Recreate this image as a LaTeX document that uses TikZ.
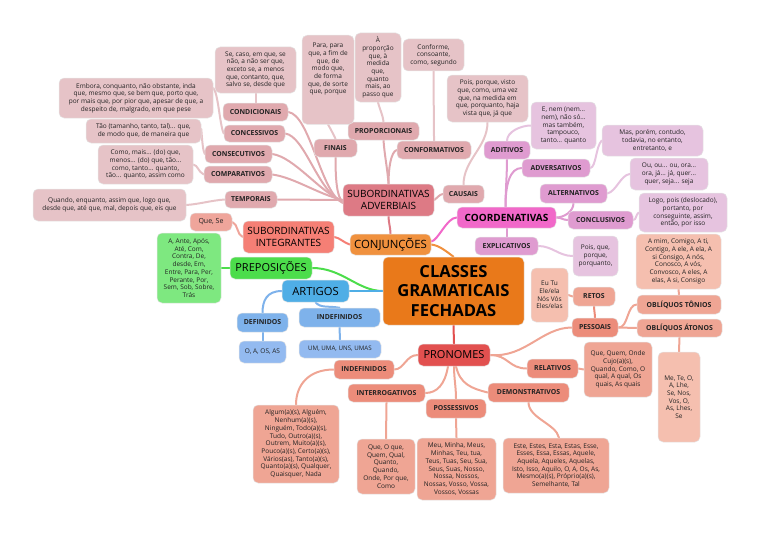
\documentclass[tikz,border=0pt]{standalone}
\usepackage{fontspec}
\setmainfont{Open Sans}
\usetikzlibrary{backgrounds}
\definecolor{cCen}{HTML}{E9791A}
\definecolor{cPro}{HTML}{E2504F}
\definecolor{cCon}{HTML}{F0913E}
\definecolor{cInt}{HTML}{F57F75}
\definecolor{cQue}{HTML}{EFA59B}
\definecolor{cPre}{HTML}{4CDD4B}
\definecolor{cPrl}{HTML}{7EE880}
\definecolor{cArt}{HTML}{4FAEE6}
\definecolor{cDef}{HTML}{7EB2EB}
\definecolor{cDel}{HTML}{93BAF0}
\definecolor{cAdv}{HTML}{DD7A85}
\definecolor{cAdl}{HTML}{E0A9AE}
\definecolor{cAdf}{HTML}{E6C3C7}
\definecolor{cCoo}{HTML}{F168C9}
\definecolor{cCol}{HTML}{DF9BD0}
\definecolor{cCof}{HTML}{E6C3DF}
\definecolor{cPrn}{HTML}{EC8C7A}
\definecolor{cPrf}{HTML}{EFA594}
\definecolor{cPrs}{HTML}{F5BFAF}
\definecolor{cInk}{HTML}{222222}
\tikzset{
  x=1pt,y=-1pt,
  box/.style={rounded corners=5pt,draw=black!10,line width=.5pt,inner sep=0pt,align=center,text=cInk},
  leaf/.style={box,font=\fontsize{6.5}{7.7}\selectfont},
  lab/.style={box,font=\fontsize{6.9}{8}\selectfont\bfseries},
  big/.style={box,text=black,font=\fontsize{10}{12.5}\selectfont},
  conn/.style={line width=2pt,line cap=round}
}
\newcommand{\bx}[7]{\node[#6,minimum width={(#4-#2)*1pt},minimum height={(#5-#3)*1pt}] (#1) at ({(#2+#4)/2},{(#3+#5)/2}) {#7};}
\newcommand{\lk}[5]{\draw[conn,draw=#1] (#2) .. controls +(#3) and +(#4) .. (#5);}
\begin{document}
\begin{tikzpicture}
\useasboundingbox (0,0) rectangle (768,543);
% centre and main branches
\bx{cen}{383}{257}{524}{325}{box,fill=cCen,text=black,font=\fontsize{16.6}{19.5}\selectfont\bfseries}{CLASSES\\GRAMATICAIS\\\raisebox{-.8pt}{FECHADAS}}
\bx{pro}{418}{344}{490}{366}{big,fill=cPro,font=\fontsize{11}{13}\selectfont}{PRONOMES}
\bx{conj}{350}{234}{431}{255}{big,fill=cCon,font=\fontsize{11.4}{13}\selectfont}{CONJUNÇÕES}
\bx{sint}{243}{221}{334}{253}{big,fill=cInt}{SUBORDINATIVAS\\INTEGRANTES}
\bx{qse}{190}{213}{232}{231}{leaf,fill=cQue,font=\fontsize{7}{8}\selectfont}{Que, Se}
\bx{prep}{230}{257}{312}{279}{big,fill=cPre,font=\fontsize{11}{13}\selectfont}{PREPOSIÇÕES}
\bx{prept}{157}{233}{221}{303}{leaf,fill=cPrl}{A, Ante, Após,\\Até, Com,\\Contra, De,\\desde, Em,\\Entre, Para, Per,\\Perante, Por,\\Sem, Sob, Sobre,\\Trás}
\bx{art}{282}{280}{349}{302}{big,fill=cArt,font=\fontsize{11.2}{13}\selectfont}{ARTIGOS}
\bx{dfn}{237}{313}{288}{332}{lab,fill=cDef}{DEFINIDOS}
\bx{inf}{299}{308}{380}{327}{lab,fill=cDef}{INDEFINIDOS}
\bx{oas}{239}{341}{286}{363}{leaf,fill=cDel}{O, A, OS, AS}
\bx{umas}{299}{340}{381}{358}{leaf,fill=cDel,font=\fontsize{6.2}{8}\selectfont}{UM, UMA, UNS, UMAS}
% subordinativas adverbiais
\bx{sadv}{343}{184}{434}{216}{big,fill=cAdv}{SUBORDINATIVAS\\ADVERBIAIS}
\bx{caus}{443}{185}{484}{203}{lab,fill=cAdl}{CAUSAIS}
\bx{pois}{447}{75}{528}{122}{leaf,fill=cAdf}{Pois, porque, visto\\que, como, uma vez\\que, na medida em\\que, porquanto, haja\\vista que, já que}
\bx{cfm}{397}{141}{471}{159}{lab,fill=cAdl}{CONFORMATIVOS}
\bx{cfml}{403}{39}{464}{71}{leaf,fill=cAdf}{Conforme,\\consoante,\\como, segundo}
\bx{ppc}{348}{122}{419}{140}{lab,fill=cAdl}{PROPORCIONAIS}
\bx{ppl}{355}{33}{401}{102}{leaf,fill=cAdf}{À\\proporção\\que, à\\medida\\que,\\quanto\\mais, ao\\passo que}
\bx{fin}{314}{139}{357}{157}{lab,fill=cAdl}{FINAIS}
\node[leaf,fill=cAdf,minimum width=52pt,minimum height=89pt,anchor=north] (finl) at (328,35) {Para, para\\que, a fim de\\que, de\\modo que,\\de forma\\que, de sorte\\que, porque\\[15pt]};
\bx{cnd}{223}{103}{288}{121}{lab,fill=cAdl}{CONDICIONAIS}
\bx{cndl}{215}{47}{296}{93}{leaf,fill=cAdf}{Se, caso, em que, se\\não, a não ser que,\\exceto se, a menos\\que, contanto, que,\\salvo se, desde que}
\bx{ccs}{224}{125}{285}{142}{lab,fill=cAdl}{CONCESSIVOS}
\bx{ccsl}{59}{78}{213}{118}{leaf,fill=cAdf}{Embora, conquanto, não obstante, inda\\que, mesmo que, se bem que, porto que,\\por mais que, por pior que, apesar de que, a\\despeito de, malgrado, em que pese}
\bx{csc}{205}{145}{272}{163}{lab,fill=cAdl}{CONSECUTIVOS}
\bx{cscl}{86}{119}{201}{143}{leaf,fill=cAdf}{Tão (tamanho, tanto, tal)... que,\\de modo que, de maneira que}
\bx{cmp}{204}{166}{272}{183}{lab,fill=cAdl}{COMPARATIVOS}
\bx{cmpl}{98}{145}{193}{184}{leaf,fill=cAdf}{Como, mais... (do) que,\\menos... (do) que, tão...\\como, tanto... quanto,\\tão... quanto, assim como}
\bx{tmp}{225}{191}{277}{208}{lab,fill=cAdl}{TEMPORAIS}
\bx{tmpl}{33}{189}{186}{221}{leaf,fill=cAdf}{Quando, enquanto, assim que, logo que,\\desde que, até que, mal, depois que, eis que}
% coordenativas
\bx{coo}{457}{207}{556}{228}{big,fill=cCoo,font=\fontsize{10}{13}\selectfont\bfseries}{COORDENATIVAS}
\bx{adi}{484}{141}{530}{159}{lab,fill=cCol}{ADITIVOS}
\bx{adil}{531}{102}{596}{149}{leaf,fill=cCof}{E, nem (nem...\\nem), não só...\\mas também,\\tampouco,\\tanto... quanto}
\bx{ads}{522}{159}{590}{177}{lab,fill=cCol}{ADVERSATIVOS}
\bx{adsl}{602}{125}{703}{156}{leaf,fill=cCof}{Mas, porém, contudo,\\todavia, no entanto,\\entretanto, e}
\bx{alt}{540}{184}{607}{203}{lab,fill=cCol}{ALTERNATIVOS}
\bx{altl}{630}{158}{708}{190}{leaf,fill=cCof}{Ou, ou... ou, ora...\\ora, já... já, quer...\\quer, seja... seja}
\bx{ccl}{568}{211}{633}{229}{lab,fill=cCol}{CONCLUSIVOS}
\bx{ccll}{639}{193}{727}{232}{leaf,fill=cCof}{Logo, pois (deslocado),\\portanto, por\\conseguinte, assim,\\então, por isso}
\bx{exp}{475}{237}{538}{255}{lab,fill=cCol}{EXPLICATIVOS}
\bx{expl}{573}{236}{618}{276}{leaf,fill=cCof}{Pois, que,\\porque,\\porquanto,}
% pronomes
\bx{eut}{531}{268}{568}{322}{leaf,fill=cPrs}{Eu Tu\\Ele/ela\\Nós Vós\\Eles/elas}
\bx{ret}{573}{287}{615}{306}{lab,fill=cPrf}{RETOS}
\bx{pes}{572}{318}{618}{337}{lab,fill=cPrn}{PESSOAIS}
\bx{obt}{637}{295}{721}{314}{lab,fill=cPrf}{OBLÍQUOS TÔNIOS}
\bx{obtl}{636}{234}{721}{289}{leaf,fill=cPrs}{A mim, Comigo, A ti,\\Contigo, A ele, A ela, A\\si Consigo, A nós,\\Conosco, A vós,\\Convosco, A eles, A\\elas, A si, Consigo}
\bx{oba}{637}{319}{722}{337}{lab,fill=cPrf}{OBLÍQUOS ÁTONOS}
\bx{obal}{658}{352}{700}{442}{leaf,fill=cPrs}{Me, Te, O,\\A, Lhe,\\Se, Nos,\\Vos, O,\\As, Lhes,\\Se}
\bx{rel}{527}{359}{578}{378}{lab,fill=cPrn}{RELATIVOS}
\bx{rell}{584}{342}{652}{397}{leaf,fill=cPrf}{Que, Quem, Onde\\Cujo(a)(s),\\Quando, Como, O\\qual, A qual, Os\\quais, As quais}
\bx{dem}{488}{383}{569}{402}{lab,fill=cPrn}{DEMONSTRATIVOS}
\bx{deml}{503}{438}{609}{493}{leaf,fill=cPrf}{Este, Estes, Esta, Estas, Esse,\\Esses, Essa, Essas, Aquele,\\Aquela, Aqueles, Aquelas,\\Isto, Isso, Aquilo, O, A, Os, As,\\Mesmo(a)(s), Próprio(a)(s),\\Semelhante, Tal}
\bx{pos}{426}{399}{486}{418}{lab,fill=cPrn}{POSSESSIVOS}
\bx{posl}{417}{438}{496}{500}{leaf,fill=cPrf}{Meu, Minha, Meus,\\Minhas, Teu, tua,\\Teus, Tuas, Seu, Sua,\\Seus, Suas, Nosso,\\Nossa, Nossos,\\Nossas, Vosso, Vossa,\\Vossos, Vossas}
\bx{itg}{348}{384}{425}{402}{lab,fill=cPrn}{INTERROGATIVOS}
\bx{itgl}{357}{439}{415}{494}{leaf,fill=cPrf}{Que, O que,\\Quem, Qual,\\Quanto,\\Quando,\\Onde, Por que,\\Como}
\bx{idf}{334}{360}{394}{379}{lab,fill=cPrn}{INDEFINIDOS}
\bx{idfl}{253}{405}{339}{483}{leaf,fill=cPrf}{Algum(a)(s), Alguém,\\Nenhum(a)(s),\\Ninguém, Todo(a)(s),\\Tudo, Outro(a)(s),\\Outrem, Muito(a)(s),\\Pouco(a)(s), Certo(a)(s),\\Vários(as), Tanto(a)(s),\\Quanto(a)(s), Qualquer,\\Quaisquer, Nada}
% connectors
\begin{scope}[on background layer]
\lk{cCon}{conj.east}{8,1}{-8,-6}{cen.north}
\lk{cCoo}{[yshift=3pt]conj.east}{7,-1}{-10,0}{coo.west}
\lk{cPre}{prep.east}{30,0}{-25,0}{cen.west}
\lk{cArt}{art.east}{10,0}{-10,0}{cen.west}
\lk{cPro}{cen.south}{0,6}{0,-6}{pro.north}
\lk{cAdv}{sadv.south}{0,6}{0,-6}{conj.north}
\lk{cInt}{sint.east}{6,1}{-8,-3}{conj.west}
\lk{cQue}{qse.east}{6,2}{-6,-2}{sint.west}
\lk{cPre}{prep.west}{-3,0}{3,0}{prept.east}
\lk{cDef}{art.west}{-15,0}{0,-12}{dfn.north}
\lk{cDef}{art.south}{5,6}{-12,-2}{inf.north}
\lk{cDef}{dfn.south}{0,3}{0,-3}{oas.north}
\lk{cDef}{inf.south}{0,4}{0,-4}{umas.north}
% adverbiais
\lk{cAdl}{[yshift=-3pt]sadv.west}{-22,-10}{22,3}{cnd.east}
\lk{cAdl}{[yshift=-2pt]sadv.west}{-25,-10}{20,3}{ccs.east}
\lk{cAdl}{[yshift=-1pt]sadv.west}{-22,-8}{22,3}{csc.east}
\lk{cAdl}{sadv.west}{-25,-6}{22,3}{cmp.east}
\lk{cAdl}{tmp.east}{20,0}{-20,0}{sadv.west}
\lk{cAdl}{fin.south}{0,22}{-6,-5}{[yshift=-2pt]sadv.west}
\lk{cAdl}{ppc.south}{1,15}{-1,-15}{sadv.north}
\lk{cAdl}{cfm.west}{-6,2}{0,-15}{sadv.north}
\lk{cAdf}{finl.south}{3,5}{-3,-6}{fin.north}
\lk{cAdf}{ppl.south}{2,8}{-1,-8}{ppc.north}
\lk{cAdf}{cfml.south}{0,25}{0,-25}{cfm.north}
\lk{cAdf}{pois.south}{0,25}{0,-25}{caus.north}
\lk{cAdl}{caus.west}{-4,1}{4,-3}{sadv.east}
\lk{cAdf}{cndl.south}{0,3}{0,-3}{cnd.north}
\lk{cAdf}{[yshift=10pt]ccsl.east}{5,5}{-4,-8}{ccs.west}
\lk{cAdf}{[yshift=2pt]cscl.east}{1,12}{-2,-4}{csc.west}
\lk{cAdf}{cmpl.east}{5,1}{-6,-3}{cmp.west}
\lk{cAdf}{tmpl.east}{14,-1}{-14,1}{tmp.west}
% coordenativas
\lk{cCol}{[xshift=-1pt]coo.north}{0,-15}{0,15}{adi.south}
\lk{cCol}{[xshift=-1pt]coo.north}{0,-22}{-12,0}{ads.west}
\lk{cCol}{coo.east}{8,0}{0,8}{alt.south}
\lk{cCol}{coo.east}{5,0}{-5,0}{ccl.west}
\lk{cCol}{coo.south}{0,3}{0,-3}{exp.north}
\lk{cCof}{exp.east}{14,0}{-14,0}{expl.west}
\lk{cCof}{adi.north}{0,-9}{-10,0}{adil.west}
\lk{cCof}{ads.east}{6,-1}{-6,6}{adsl.west}
\lk{cCof}{alt.east}{9,-2}{-9,1}{altl.west}
\lk{cCof}{ccl.east}{3,0}{-3,2}{ccll.west}
% pronomes
\lk{cPrf}{pro.west}{-12,0}{10,0}{idf.east}
\lk{cPrf}{[xshift=-6pt]pro.south}{-3,18}{12,0}{itg.east}
\lk{cPrf}{pro.south}{0,12}{0,-12}{pos.north}
\lk{cPrf}{[xshift=2pt]pro.south}{4,18}{-16,-4}{dem.west}
\lk{cPrf}{pro.east}{18,0}{-18,0}{rel.west}
\lk{cPrf}{pro.east}{35,3}{-30,0}{pes.west}
\lk{cPrn}{pes.north}{0,-3}{0,3}{ret.south}
\lk{cPrf}{ret.west}{-2,0}{2,0}{eut.east}
\lk{cPrf}{pes.east}{10,1}{-10,0}{obt.west}
\lk{cPrf}{pes.east}{7,0}{-7,0}{oba.west}
\lk{cPrf}{obt.north}{0,-2}{0,2}{obtl.south}
\lk{cPrf}{oba.south}{0,5}{0,-5}{obal.north}
\lk{cPrf}{rel.east}{2,0}{-2,0}{rell.west}
\lk{cPrf}{idf.west}{-25,0}{0,-20}{idfl.north}
\lk{cPrf}{itg.south}{0,12}{0,-12}{itgl.north}
\lk{cPrf}{pos.south}{0,6}{0,-6}{posl.north}
\lk{cPrf}{dem.south}{0,16}{-3,-14}{[xshift=3pt]deml.north}
\end{scope}
\end{tikzpicture}
\end{document}
